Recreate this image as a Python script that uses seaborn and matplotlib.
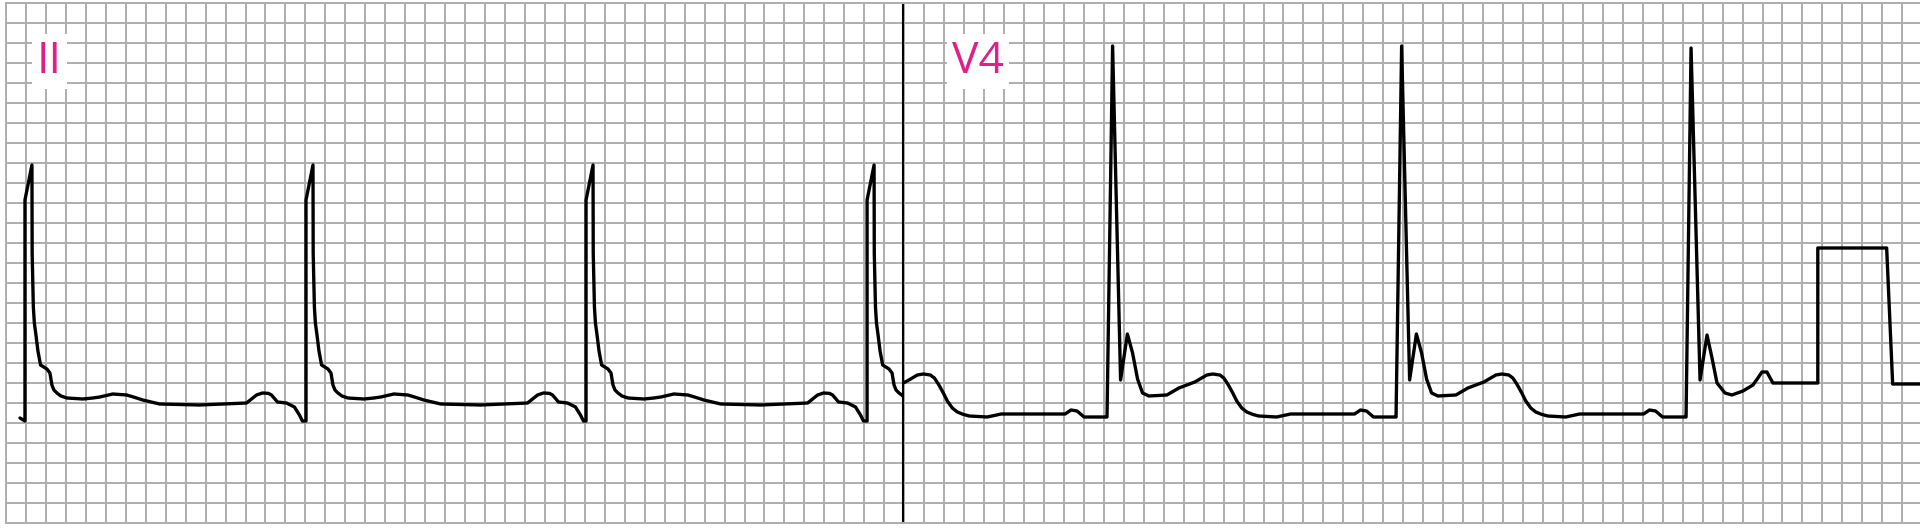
import numpy as np
import pandas as pd
import matplotlib
matplotlib.use("Agg")
import matplotlib.pyplot as plt
from matplotlib.patches import Rectangle
import seaborn as sns

# units: 1 = one small square of the paper (time and amplitude)

# lead II, baseline height on the paper
II_BASE = 6.0
ii_lead_t = [0.70]
ii_lead_amp = [-0.75]
ii_onsets = [0.95, 15.03, 29.06, 43.14]
ii_beat_t = [0.0, 0.0, 0.35, 0.36, 0.42, 0.47, 0.55, 0.65, 0.78, 1.1, 1.25,
             1.35, 1.45, 1.6, 1.8, 2.1, 2.9, 3.4, 3.75, 4.4, 5.1, 5.5, 5.9,
             6.75, 8.75, 11.1, 11.35, 11.6, 11.9, 12.2, 12.35, 12.65, 13.1,
             13.5, 13.75, 13.9]
ii_beat_amp = [-0.9, 10.15, 11.9, 7.5, 4.8, 4.0, 3.4, 2.6, 1.9, 1.7, 1.5,
               0.9, 0.65, 0.5, 0.35, 0.25, 0.2, 0.25, 0.3, 0.45, 0.4, 0.28,
               0.15, -0.05, -0.1, 0.0, 0.2, 0.4, 0.5, 0.48, 0.4, 0.05, 0.0,
               -0.2, -0.6, -0.9]

# lead V4
V4_BASE = 5.35
v4_onsets = [40.66, 55.16, 69.64]
v4_beat_t = [0.0, 0.28, 0.68, 1.02, 1.28, 1.53, 1.78, 2.1, 3.0, 3.6, 4.4, 5.0,
             5.3, 5.65, 5.85, 6.05, 6.3, 6.5, 6.75, 7.0, 7.3, 7.6, 8.5, 9.2,
             12.4, 12.7, 13.0, 13.35, 14.45]
v4_beat_amp = [-0.05, 18.5, 1.8, 4.1, 3.15, 1.85, 1.15, 1.0, 1.05, 1.4, 1.7,
               2.05, 2.1, 2.05, 1.9, 1.6, 1.15, 0.75, 0.4, 0.2, 0.08, 0.0,
               -0.05, 0.1, 0.1, 0.3, 0.25, -0.05, -0.05]
v4_last_onset = 84.17
v4_last_t = [0.0, 0.25, 0.7, 1.05, 1.3, 1.55, 1.95, 2.3, 2.85, 3.35, 3.6, 3.8,
             4.05, 4.35, 6.6, 6.6, 10.05, 10.35, 11.75]
v4_last_amp = [-0.05, 18.4, 1.8, 4.05, 2.9, 1.65, 1.15, 1.05, 1.25, 1.55, 1.9,
               2.2, 2.2, 1.65, 1.65, 8.4, 8.4, 1.6, 1.6]

SPLIT = 44.94
PAPER_W = 95.89
PAPER_H = 26

# build traces
ii_t = list(ii_lead_t)
ii_a = list(ii_lead_amp)
for on in ii_onsets:
    ii_t += [on + t for t in ii_beat_t]
    ii_a += ii_beat_amp
ii_df = pd.DataFrame({"t": ii_t, "y": np.array(ii_a) + II_BASE})

v4_t, v4_a = [], []
for on in v4_onsets:
    v4_t += [on + t for t in v4_beat_t]
    v4_a += v4_beat_amp
v4_t += [v4_last_onset + t for t in v4_last_t]
v4_a += v4_last_amp
v4_df = pd.DataFrame({"t": v4_t, "y": np.array(v4_a) + V4_BASE})

sns.set_theme(style="white")
plt.rcParams["font.family"] = ["Open Sans", "DejaVu Sans"]

fig = plt.figure(figsize=(19.2, 5.28), dpi=100)
ax = fig.add_axes([6 / 1920, 5 / 528, 1914 / 1920, 520 / 528])

grid_col = "#adadad"
ax.set_xlim(0, PAPER_W)
ax.set_ylim(0, PAPER_H)
ax.set_xticks(np.arange(0, 96))
ax.set_yticks(np.arange(0, PAPER_H + 1))
ax.grid(True, color=grid_col, lw=1.4)
ax.set_axisbelow(True)
ax.tick_params(length=0, labelbottom=False, labelleft=False)
for side, sp in ax.spines.items():
    sp.set_color(grid_col)
    sp.set_linewidth(1.4)
ax.spines["right"].set_visible(False)

line_kw = dict(color="black", lw=2.4, sort=False, estimator=None,
               solid_joinstyle="round", solid_capstyle="round")

sns.lineplot(data=ii_df, x="t", y="y", ax=ax, **line_kw)
ax.lines[-1].set_clip_path(Rectangle((0, 0), SPLIT, PAPER_H, transform=ax.transData))

sns.lineplot(data=v4_df, x="t", y="y", ax=ax, **line_kw)
ax.lines[-1].set_clip_path(Rectangle((SPLIT, 0), PAPER_W - SPLIT, PAPER_H,
                                     transform=ax.transData))

ax.axvline(SPLIT, ymin=0.0, ymax=1.0, color="black", lw=1.5)

label_kw = dict(color="#e0208a", fontsize=32, va="baseline", ha="left",
                bbox=dict(boxstyle="square,pad=0.12", fc="white", ec="none"))
ax.text(1.55, 22.5, "II", **label_kw)
ax.text(47.4, 22.5, "V4", **label_kw)

ax.set_xlabel("")
ax.set_ylabel("")

fig.savefig("out.png", dpi=100)
